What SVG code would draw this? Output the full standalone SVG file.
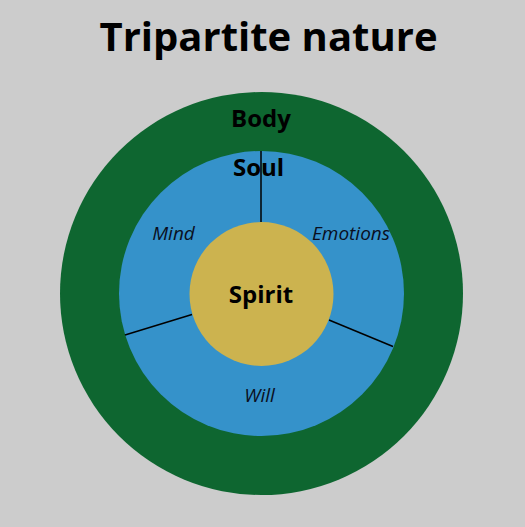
<svg xmlns="http://www.w3.org/2000/svg" width="525" height="527" viewBox="0 0 525 527">
<style>
.t{font-family:"Open Sans","Liberation Sans",sans-serif;fill:#000;text-anchor:middle}
.b{font-weight:bold}
.l{font-size:24px}
.i{font-style:italic;font-size:19px;fill:#0a0f1e}
.sep{stroke:#000;stroke-width:1.5}
</style>
<rect width="525" height="527" fill="#cccccc"/>
<text class="t b" x="268.5" y="51" font-size="40" font-weight="800">Tripartite nature</text>
<g id="body">
<circle cx="261.5" cy="293.5" r="201.5" fill="#0e6630"/>
<text class="t b l" x="261" y="127">Body</text>
</g>
<g id="soul">
<circle cx="261.5" cy="293.5" r="142.5" fill="#3592ca"/>
</g>
<g id="connectors">
<line class="sep" x1="261" y1="151" x2="261" y2="222"/>
<line class="sep" x1="192" y1="314.5" x2="125" y2="335"/>
<line class="sep" x1="329" y1="320" x2="393" y2="346.5"/>
</g>
<g id="soul-label">
<text class="t b l" x="258.5" y="176">Soul</text>
</g>
<g id="mind"><text class="t i" x="173.5" y="240">Mind</text></g>
<g id="emotions"><text class="t i" x="351" y="240">Emotions</text></g>
<g id="will"><text class="t i" x="259.5" y="402">Will</text></g>
<g id="spirit">
<circle cx="261.5" cy="294" r="72" fill="#ccb34f"/>
<text class="t b l" x="261" y="303">Spirit</text>
</g>
</svg>
